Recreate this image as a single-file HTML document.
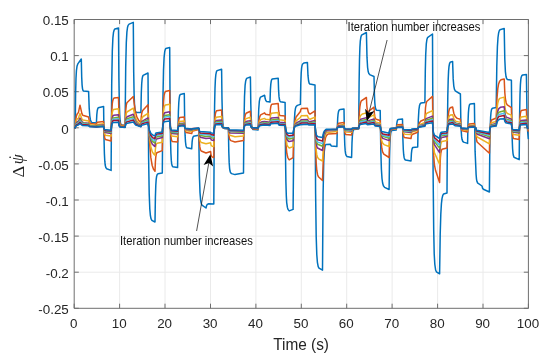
<!DOCTYPE html>
<html lang="en">
<head>
<meta charset="utf-8">
<title>Iteration convergence plot</title>
<style>html,body{margin:0;padding:0;background:#fff}svg{display:block}</style>
</head>
<body>
<svg width="550" height="360" viewBox="0 0 550 360">
<rect width="550" height="360" fill="#fff"/>
<path d="M119.6 19.5V308.3M165.0 19.5V308.3M210.5 19.5V308.3M255.9 19.5V308.3M301.3 19.5V308.3M346.7 19.5V308.3M392.1 19.5V308.3M437.6 19.5V308.3M483.0 19.5V308.3M74.2 55.6H528.4M74.2 91.7H528.4M74.2 127.8H528.4M74.2 163.9H528.4M74.2 200.0H528.4M74.2 236.1H528.4M74.2 272.2H528.4" stroke="#eaeaea" stroke-width="1" fill="none"/>
<path d="M74.2 19.5H528.4V308.3H74.2ZM74.2 308.3v-4.6M74.2 19.5v4.6M119.6 308.3v-4.6M119.6 19.5v4.6M165.0 308.3v-4.6M165.0 19.5v4.6M210.5 308.3v-4.6M210.5 19.5v4.6M255.9 308.3v-4.6M255.9 19.5v4.6M301.3 308.3v-4.6M301.3 19.5v4.6M346.7 308.3v-4.6M346.7 19.5v4.6M392.1 308.3v-4.6M392.1 19.5v4.6M437.6 308.3v-4.6M437.6 19.5v4.6M483.0 308.3v-4.6M483.0 19.5v4.6M528.4 308.3v-4.6M528.4 19.5v4.6M74.2 19.5h4.6M528.4 19.5h-4.6M74.2 55.6h4.6M528.4 55.6h-4.6M74.2 91.7h4.6M528.4 91.7h-4.6M74.2 127.8h4.6M528.4 127.8h-4.6M74.2 163.9h4.6M528.4 163.9h-4.6M74.2 200.0h4.6M528.4 200.0h-4.6M74.2 236.1h4.6M528.4 236.1h-4.6M74.2 272.2h4.6M528.4 272.2h-4.6M74.2 308.3h4.6M528.4 308.3h-4.6" stroke="#6e6e6e" stroke-width="1" fill="none"/>
<g fill="none" stroke-width="1.50" stroke-linejoin="round" stroke-linecap="butt">
<path d="M74.2 127.8 L75.2 127.8 L75.6 93.8 L76.0 78.2 L76.4 70.9 L77.0 66.3 L77.8 63.9 L81.3 59.0 L81.7 77.1 L82.1 85.1 L82.5 88.6 L82.9 90.2 L83.3 90.9 L88.6 91.5 L89.2 108.1 L89.8 116.0 L90.4 119.7 L91.0 121.4 L91.8 122.4 L96.4 123.0 L96.8 114.9 L97.2 111.0 L97.6 109.1 L98.2 107.8 L103.6 106.5 L104.0 138.1 L104.4 153.6 L104.8 161.2 L105.2 165.0 L105.8 167.5 L106.6 168.7 L111.1 170.4 L111.7 85.3 L112.3 51.4 L112.9 37.8 L113.5 32.4 L114.1 30.2 L114.9 29.0 L118.5 28.0 L118.9 78.4 L119.3 102.7 L119.7 114.5 L120.1 120.2 L120.5 122.9 L120.9 124.3 L121.5 125.1 L125.1 125.5 L125.7 67.5 L126.3 42.7 L126.9 32.1 L127.5 27.5 L128.1 25.4 L129.1 24.1 L133.3 22.4 L133.7 72.0 L134.1 94.3 L134.5 104.3 L134.9 108.8 L135.3 110.8 L135.7 111.8 L136.5 112.4 L140.9 112.5 L141.3 93.1 L141.7 83.7 L142.1 79.2 L142.5 76.9 L143.1 75.4 L148.0 73.0 L148.6 157.6 L149.2 193.6 L149.8 209.0 L150.4 215.7 L151.0 218.6 L151.8 220.3 L155.0 222.0 L155.4 197.3 L155.8 185.2 L156.2 179.3 L156.6 176.4 L157.2 174.5 L158.0 173.7 L162.3 173.0 L162.9 100.9 L163.5 70.3 L164.1 57.3 L164.7 51.8 L165.3 49.4 L165.9 48.4 L169.7 47.6 L170.1 108.8 L170.5 138.7 L170.9 153.2 L171.3 160.4 L171.7 163.9 L172.1 165.6 L172.7 166.7 L177.6 167.6 L178.0 129.9 L178.4 111.5 L178.8 102.5 L179.2 98.1 L179.6 95.9 L180.2 94.5 L184.3 93.6 L184.7 121.8 L185.1 135.4 L185.5 142.0 L185.9 145.2 L186.3 146.8 L186.9 147.8 L191.7 148.8 L192.1 142.2 L192.5 139.0 L192.9 137.4 L193.5 136.3 L198.8 135.2 L199.4 175.2 L200.0 192.4 L200.6 199.9 L201.2 203.2 L202.0 205.2 L206.0 208.0 L206.6 205.6 L207.2 204.5 L208.4 203.8 L213.8 204.0 L214.2 138.9 L214.6 105.5 L215.0 88.3 L215.4 79.4 L215.8 74.9 L216.4 71.8 L217.0 70.6 L221.6 69.2 L222.0 100.1 L222.4 115.0 L222.8 122.3 L223.2 125.7 L223.6 127.4 L224.2 128.5 L228.4 129.0 L228.8 151.8 L229.2 162.9 L229.6 168.3 L230.0 171.0 L230.6 172.7 L231.6 173.6 L235.0 174.6 L243.5 173.0 L243.9 127.6 L244.5 96.9 L245.1 85.3 L245.7 80.9 L246.3 79.1 L247.2 78.1 L250.4 77.0 L250.8 104.1 L251.2 117.4 L251.6 123.9 L252.0 127.0 L252.4 128.5 L253.0 129.5 L258.1 130.0 L258.7 109.8 L259.3 101.7 L259.9 98.5 L260.5 97.1 L264.6 95.2 L265.2 98.8 L265.8 100.5 L266.6 101.4 L270.0 102.0 L270.4 89.9 L270.8 84.1 L271.2 81.3 L271.6 79.9 L272.2 79.0 L278.2 78.2 L278.6 90.4 L279.0 96.4 L279.4 99.3 L279.8 100.8 L280.4 101.7 L285.1 102.6 L285.5 155.3 L285.9 182.0 L286.3 195.6 L286.7 202.6 L287.4 207.4 L288.0 209.4 L289.2 210.9 L293.1 209.4 L293.7 146.6 L294.3 121.9 L294.9 112.1 L295.5 108.2 L296.1 106.5 L297.4 105.4 L300.4 104.4 L300.8 83.2 L301.2 73.0 L301.6 68.0 L302.0 65.6 L302.6 64.0 L303.8 63.1 L307.4 62.4 L308.0 75.7 L308.6 81.0 L309.2 83.2 L309.8 84.0 L315.0 85.0 L315.6 193.2 L316.2 236.8 L316.8 254.7 L317.4 262.3 L318.2 266.7 L319.0 268.1 L322.5 270.2 L323.1 193.5 L323.7 163.3 L324.3 151.5 L324.9 146.9 L325.5 145.1 L326.1 144.4 L330.4 144.2 L330.8 145.3 L331.4 146.0 L336.9 146.6 L337.3 127.6 L337.7 118.3 L338.1 113.8 L338.5 111.6 L339.1 110.1 L340.3 109.4 L344.0 109.0 L344.4 133.4 L344.8 145.2 L345.2 150.9 L345.6 153.7 L346.2 155.5 L347.0 156.4 L351.6 157.4 L352.0 142.6 L352.4 135.5 L352.8 132.1 L353.2 130.5 L353.8 129.5 L358.7 129.0 L359.1 82.9 L359.5 59.4 L359.9 47.4 L360.3 41.1 L360.9 36.9 L361.5 35.2 L366.4 32.5 L367.0 57.4 L367.6 67.5 L368.2 71.6 L368.8 73.4 L370.2 74.9 L374.0 76.5 L374.4 94.1 L374.8 102.6 L375.2 106.7 L375.6 108.6 L376.0 109.6 L376.6 110.2 L380.2 110.5 L380.8 150.3 L381.4 169.3 L382.0 178.5 L382.6 183.0 L383.4 185.8 L384.6 187.4 L389.1 189.5 L389.5 158.8 L389.9 143.9 L390.3 136.7 L390.7 133.2 L391.1 131.6 L391.7 130.5 L396.3 130.0 L396.7 124.3 L397.1 121.6 L397.5 120.2 L398.1 119.4 L402.5 119.0 L402.9 139.2 L403.3 149.5 L403.7 154.7 L404.1 157.4 L404.7 159.3 L405.5 160.1 L411.0 161.0 L411.4 153.7 L411.8 150.2 L412.2 148.5 L412.8 147.5 L417.7 147.0 L418.3 120.4 L418.9 109.8 L419.5 105.6 L420.1 103.9 L420.9 103.1 L424.9 102.4 L425.3 71.0 L425.7 54.8 L426.3 43.8 L426.9 39.5 L427.5 37.7 L432.5 34.0 L433.1 172.5 L433.7 229.7 L434.2 253.7 L434.8 264.1 L435.6 270.0 L436.4 271.8 L439.6 273.8 L440.2 234.5 L440.8 214.3 L441.4 203.9 L442.0 198.6 L442.8 195.3 L443.6 193.9 L447.0 193.0 L447.4 129.2 L447.8 96.5 L448.2 79.6 L448.6 70.9 L449.0 66.5 L449.6 63.4 L450.2 62.3 L452.6 61.4 L453.2 78.9 L453.8 86.1 L454.4 89.1 L455.2 90.8 L460.4 94.0 L460.8 118.6 L461.2 130.6 L461.6 136.4 L462.0 139.3 L462.6 141.1 L463.6 142.1 L467.6 143.4 L468.0 122.8 L468.4 112.9 L468.8 108.1 L469.2 105.8 L469.6 104.6 L470.2 104.0 L474.4 103.6 L475.1 151.4 L476.1 174.5 L476.5 179.1 L476.9 181.3 L477.5 182.8 L482.0 186.0 L482.6 188.2 L483.4 189.3 L489.4 192.0 L489.8 148.6 L490.2 127.6 L490.6 117.4 L491.0 112.5 L491.4 110.1 L491.8 108.9 L492.4 108.2 L496.2 107.6 L496.8 66.3 L497.4 46.8 L498.0 37.5 L498.6 33.1 L499.2 30.9 L500.0 29.7 L504.2 28.4 L504.8 59.3 L505.4 71.6 L506.0 76.5 L506.6 78.5 L507.4 79.5 L511.4 80.2 L511.8 120.0 L512.2 139.3 L512.6 148.7 L513.0 153.3 L513.4 155.6 L514.0 157.2 L519.2 159.6 L519.6 115.9 L520.0 94.8 L520.4 84.6 L520.8 79.6 L521.2 77.2 L521.8 75.7 L522.8 74.9 L526.4 74.4 L527.0 113.9 L527.6 130.6 L528.2 137.8 L528.4 139.1" stroke="#0072bd"/>
<path d="M74.2 127.8 L75.2 127.8 L75.8 119.6 L76.4 115.9 L77.2 113.9 L78.4 112.6 L80.0 105.2 L81.9 113.6 L82.7 115.3 L88.6 117.0 L89.2 120.7 L89.8 122.5 L90.6 123.5 L96.4 124.2 L96.8 123.0 L97.4 122.3 L103.6 121.5 L104.0 131.0 L104.4 135.7 L104.8 138.0 L105.4 139.5 L111.1 141.0 L111.5 120.0 L111.9 109.3 L112.3 103.7 L112.7 100.9 L113.3 99.0 L114.1 98.1 L118.5 97.5 L118.9 112.0 L119.3 119.0 L119.7 122.3 L120.1 124.0 L120.7 125.0 L125.1 125.5 L125.7 110.8 L126.3 105.1 L126.9 102.7 L133.3 96.5 L135.1 110.4 L136.9 117.1 L138.9 120.6 L140.9 122.2 L141.3 116.5 L141.9 112.6 L142.7 110.5 L148.0 104.8 L149.4 140.4 L150.8 157.4 L152.2 165.5 L153.6 169.4 L155.0 171.3 L155.4 161.6 L155.8 156.8 L156.2 154.4 L156.8 152.8 L162.3 150.6 L162.9 116.3 L163.5 101.7 L164.1 95.4 L164.7 92.8 L165.3 91.6 L169.7 90.5 L170.1 116.9 L170.5 129.8 L170.9 136.0 L171.3 139.1 L171.7 140.6 L172.3 141.5 L177.6 142.0 L178.0 129.2 L178.4 123.0 L178.8 119.9 L179.2 118.4 L179.8 117.5 L184.3 117.0 L184.7 125.3 L185.1 129.3 L185.5 131.3 L186.1 132.5 L191.7 133.6 L192.1 132.0 L192.7 131.0 L198.8 129.6 L199.2 139.9 L199.8 146.9 L200.4 149.6 L201.2 151.0 L206.0 153.0 L210.6 151.5 L211.0 154.6 L211.4 156.0 L212.0 156.9 L213.8 157.6 L214.2 134.7 L214.6 122.9 L215.0 116.8 L215.4 113.7 L216.0 111.6 L216.6 110.8 L221.6 110.0 L222.0 119.6 L222.4 124.2 L222.8 126.4 L223.2 127.5 L223.8 128.2 L228.4 128.5 L228.8 134.6 L229.2 137.6 L229.8 139.5 L230.8 140.6 L235.0 142.0 L243.5 140.6 L244.1 124.8 L244.7 117.9 L245.3 114.9 L246.1 113.2 L250.4 111.2 L250.8 120.3 L251.2 124.8 L251.6 126.9 L252.2 128.3 L253.2 128.9 L258.1 129.0 L258.9 120.7 L259.7 116.9 L260.7 114.8 L264.6 112.8 L265.4 114.2 L270.0 115.0 L270.4 109.3 L270.8 106.5 L271.2 105.2 L271.8 104.3 L278.2 103.6 L278.6 109.9 L279.0 113.0 L279.4 114.6 L280.0 115.5 L285.1 116.0 L285.7 137.3 L286.3 148.2 L286.9 153.8 L287.8 157.5 L288.8 159.4 L289.2 159.9 L293.1 157.7 L293.7 136.7 L294.3 126.5 L295.1 120.3 L296.1 117.0 L300.4 111.5 L300.8 109.7 L301.4 108.6 L307.4 108.2 L308.2 111.8 L309.0 113.3 L310.0 114.1 L315.0 110.8 L315.6 147.4 L316.2 163.3 L316.8 170.5 L317.6 174.7 L318.4 176.7 L322.5 180.5 L323.5 154.9 L324.5 143.2 L325.5 137.8 L326.6 135.4 L328.0 134.0 L336.9 133.6 L337.3 128.1 L337.7 125.4 L338.1 124.1 L338.7 123.2 L344.0 122.5 L344.4 129.0 L344.8 132.1 L345.2 133.6 L345.8 134.5 L351.6 135.0 L352.0 131.6 L352.4 130.0 L353.0 129.0 L358.7 128.5 L359.3 113.6 L359.9 106.5 L360.5 103.0 L361.3 100.8 L366.4 97.5 L366.8 105.5 L367.2 109.2 L367.6 110.8 L368.0 111.4 L368.4 111.5 L374.0 107.2 L374.4 113.4 L374.8 116.4 L375.4 118.4 L376.2 119.3 L380.2 120.5 L381.0 139.9 L381.8 148.2 L382.6 151.9 L383.8 154.2 L389.1 157.5 L389.5 142.8 L389.9 135.7 L390.3 132.2 L390.7 130.6 L391.3 129.5 L396.3 129.0 L396.7 126.6 L397.1 125.5 L397.7 124.8 L402.5 124.4 L402.9 131.1 L403.3 134.5 L403.7 136.3 L404.3 137.5 L411.0 138.6 L411.4 136.1 L412.0 134.5 L417.7 132.2 L418.5 126.1 L419.3 123.2 L420.5 121.3 L424.9 119.3 L425.5 107.9 L426.1 103.5 L426.7 101.5 L432.5 96.4 L433.1 138.4 L433.7 155.4 L434.4 164.7 L435.6 170.6 L439.6 182.5 L440.0 166.1 L440.4 157.7 L440.8 153.4 L441.4 150.4 L442.0 149.3 L447.0 148.0 L447.6 126.4 L448.2 116.1 L448.8 111.3 L449.4 109.0 L450.2 107.8 L452.6 107.0 L453.8 113.2 L455.2 116.5 L457.2 118.4 L460.4 119.3 L460.8 125.4 L461.2 128.4 L461.6 129.8 L462.2 130.8 L467.6 132.0 L468.0 127.7 L468.4 125.6 L468.8 124.5 L469.4 123.9 L474.4 123.6 L474.8 126.5 L475.3 128.3 L475.9 129.0 L476.3 137.8 L476.7 140.8 L477.1 142.0 L489.4 153.2 L489.8 135.9 L490.2 127.5 L490.6 123.4 L491.0 121.3 L491.6 120.0 L496.2 118.0 L497.0 98.2 L497.8 88.6 L498.6 83.9 L499.6 81.2 L501.0 79.8 L504.2 79.0 L504.8 92.5 L505.4 99.0 L506.2 103.0 L507.2 104.9 L511.4 107.6 L511.8 123.9 L512.2 131.7 L512.6 135.5 L513.0 137.4 L513.6 138.6 L519.2 139.6 L519.6 124.3 L520.0 116.9 L520.4 113.3 L520.8 111.5 L521.4 110.4 L526.4 109.6 L527.0 123.1 L527.6 128.8 L528.2 131.2 L528.4 131.7" stroke="#d95319"/>
<path d="M74.2 127.8 L75.2 127.8 L75.8 122.6 L76.4 120.3 L77.2 119.0 L78.4 118.3 L80.0 113.6 L81.9 118.9 L82.9 120.1 L88.6 121.0 L89.2 123.3 L90.0 124.7 L96.4 125.5 L97.0 124.6 L103.6 123.8 L104.0 129.8 L104.4 132.8 L104.8 134.2 L105.4 135.2 L111.1 136.1 L111.5 122.9 L111.9 116.1 L112.3 112.6 L112.9 110.3 L113.5 109.4 L118.5 108.7 L118.9 117.8 L119.3 122.2 L119.7 124.4 L120.1 125.4 L120.7 126.0 L125.1 126.4 L125.7 117.1 L126.3 113.5 L126.9 112.0 L133.3 108.1 L135.1 116.8 L137.1 121.4 L139.9 123.9 L140.9 124.3 L141.3 120.7 L141.9 118.2 L143.1 116.5 L148.0 113.3 L149.4 135.7 L150.8 146.4 L152.2 151.6 L153.8 154.2 L155.0 155.2 L155.4 149.1 L155.8 146.1 L156.4 144.1 L157.2 143.2 L162.3 142.2 L162.9 120.5 L163.5 111.3 L164.1 107.4 L164.7 105.7 L165.5 104.9 L169.7 104.3 L170.1 120.9 L170.5 129.0 L170.9 133.0 L171.3 134.9 L171.9 136.1 L177.6 136.7 L178.0 128.7 L178.4 124.8 L178.8 122.8 L179.4 121.6 L184.3 121.0 L184.7 126.2 L185.1 128.8 L185.5 130.0 L186.1 130.8 L191.7 131.5 L192.3 130.2 L198.8 128.9 L199.2 135.4 L199.8 139.8 L200.4 141.5 L201.4 142.5 L206.0 143.7 L210.6 142.7 L211.0 144.7 L211.4 145.6 L212.2 146.2 L213.8 146.6 L214.2 132.1 L214.6 124.7 L215.0 120.9 L215.6 118.3 L216.2 117.3 L221.6 116.6 L222.0 122.6 L222.4 125.5 L222.8 126.9 L223.4 127.8 L228.4 128.2 L228.8 132.1 L229.2 133.9 L229.8 135.2 L235.0 136.7 L243.5 135.9 L244.1 125.9 L244.7 121.6 L245.3 119.6 L246.1 118.6 L250.4 117.3 L250.8 123.1 L251.2 125.9 L251.6 127.3 L252.2 128.1 L258.1 128.6 L258.9 123.3 L259.7 120.9 L260.9 119.5 L264.6 118.4 L265.4 119.2 L270.0 119.7 L270.4 116.1 L270.8 114.4 L271.4 113.3 L278.2 112.6 L278.6 116.6 L279.0 118.5 L279.6 119.7 L285.1 120.4 L285.7 133.8 L286.3 140.7 L287.1 145.0 L288.0 146.8 L289.2 148.0 L293.1 146.6 L293.7 133.4 L294.3 127.0 L295.1 123.1 L296.3 120.7 L300.4 117.5 L300.8 116.4 L301.4 115.7 L307.4 115.5 L308.2 117.7 L309.2 118.8 L310.0 119.2 L315.0 117.1 L315.6 140.1 L316.2 150.2 L316.8 154.7 L317.6 157.4 L318.6 158.8 L322.5 161.0 L323.5 144.9 L324.5 137.5 L325.5 134.1 L326.8 132.4 L336.9 131.5 L337.3 128.0 L337.7 126.3 L338.3 125.2 L344.0 124.5 L344.4 128.5 L344.8 130.5 L345.2 131.4 L345.8 132.0 L351.6 132.3 L352.0 130.2 L352.4 129.2 L353.0 128.6 L358.7 128.2 L359.3 120.9 L359.9 117.3 L360.7 115.3 L362.3 114.0 L366.4 112.9 L366.8 115.8 L367.2 117.0 L367.6 117.5 L368.4 117.6 L374.0 114.8 L374.4 118.7 L374.8 120.6 L375.4 121.9 L380.2 123.2 L381.0 135.4 L381.8 140.7 L382.6 143.0 L384.0 144.6 L389.1 146.5 L389.5 137.2 L389.9 132.7 L390.3 130.6 L390.7 129.5 L391.3 128.9 L396.3 128.6 L396.7 127.1 L397.3 126.1 L402.5 125.7 L402.9 129.9 L403.3 132.0 L403.9 133.5 L404.9 134.2 L411.0 134.6 L411.4 133.0 L412.0 132.0 L417.7 130.6 L418.5 126.7 L419.5 124.6 L424.9 122.5 L425.5 116.7 L426.1 114.4 L426.9 113.2 L432.5 110.6 L433.1 136.3 L433.7 146.8 L434.4 152.6 L439.6 164.3 L440.0 153.0 L440.4 147.2 L440.8 144.2 L441.4 142.2 L442.0 141.4 L447.0 140.5 L447.6 126.9 L448.2 120.5 L448.8 117.4 L449.4 116.0 L450.4 115.1 L452.6 114.7 L454.0 119.0 L455.6 121.1 L460.4 122.4 L460.8 126.3 L461.2 128.2 L461.8 129.4 L467.6 130.4 L468.0 127.7 L468.4 126.4 L469.0 125.6 L474.4 125.2 L475.0 127.5 L475.7 128.5 L475.9 128.6 L476.3 134.1 L476.7 136.0 L477.3 137.0 L489.4 143.8 L489.8 132.9 L490.2 127.6 L490.6 125.0 L491.2 123.3 L492.2 122.5 L496.2 121.6 L497.0 109.1 L497.8 103.1 L498.6 100.1 L499.6 98.4 L504.2 97.1 L504.8 105.6 L505.4 109.7 L506.2 112.1 L507.4 113.5 L511.4 115.1 L511.8 125.3 L512.2 130.3 L512.6 132.7 L513.0 133.9 L513.6 134.6 L519.2 135.2 L519.6 125.6 L520.0 120.9 L520.4 118.6 L520.8 117.5 L521.4 116.9 L526.4 116.3 L527.0 124.8 L527.6 128.4 L528.2 129.9 L528.4 130.2" stroke="#edb120"/>
<path d="M74.2 127.8 L75.2 127.8 L75.8 124.3 L76.4 122.7 L77.4 121.7 L78.4 121.3 L80.0 118.1 L81.9 121.7 L83.3 122.7 L88.6 123.2 L89.2 124.8 L90.0 125.7 L96.4 126.3 L97.0 125.6 L103.6 125.1 L104.0 129.2 L104.4 131.2 L105.0 132.5 L111.1 133.5 L111.5 124.5 L111.9 119.8 L112.3 117.5 L112.9 115.9 L113.7 115.2 L118.5 114.8 L118.9 121.0 L119.3 124.0 L119.7 125.5 L120.3 126.4 L125.1 126.8 L125.7 120.5 L126.3 118.0 L127.1 116.8 L133.3 114.3 L135.1 120.3 L137.3 123.6 L140.9 125.4 L141.3 122.9 L141.9 121.3 L148.0 117.9 L149.4 133.2 L150.8 140.5 L152.2 144.0 L154.2 146.1 L155.0 146.5 L155.4 142.3 L155.8 140.3 L156.4 138.9 L162.3 137.6 L162.9 122.8 L163.5 116.6 L164.1 113.9 L164.7 112.7 L169.7 111.8 L170.1 123.1 L170.5 128.6 L170.9 131.3 L171.3 132.7 L171.9 133.5 L177.6 133.9 L178.0 128.4 L178.4 125.7 L178.8 124.4 L179.4 123.6 L184.3 123.2 L184.7 126.7 L185.1 128.5 L185.7 129.5 L191.7 130.3 L192.3 129.4 L198.8 128.6 L199.2 133.0 L199.8 136.0 L200.4 137.2 L206.0 138.6 L210.6 138.0 L211.0 139.3 L211.6 140.1 L213.8 140.6 L214.2 130.7 L214.6 125.7 L215.0 123.1 L215.6 121.3 L216.4 120.6 L221.6 120.1 L222.0 124.3 L222.4 126.2 L222.8 127.2 L223.4 127.8 L228.4 128.1 L228.8 130.7 L229.4 132.4 L230.2 133.1 L243.5 133.3 L244.1 126.5 L244.7 123.5 L245.3 122.2 L246.7 121.3 L250.4 120.7 L250.8 124.6 L251.2 126.5 L251.8 127.7 L258.1 128.3 L258.9 124.7 L259.7 123.1 L261.8 121.8 L264.6 121.4 L270.0 122.3 L270.4 119.8 L270.8 118.7 L271.4 117.9 L278.2 117.4 L278.6 120.1 L279.0 121.5 L279.6 122.3 L285.1 122.7 L285.7 131.9 L286.3 136.6 L287.1 139.5 L288.2 141.0 L289.2 141.6 L293.1 140.7 L293.7 131.6 L294.3 127.2 L295.1 124.6 L296.8 122.7 L300.4 120.8 L301.0 119.8 L307.4 119.4 L308.2 120.9 L309.6 121.8 L315.0 120.5 L315.6 136.2 L316.2 143.1 L316.8 146.2 L317.6 148.0 L322.5 150.5 L323.5 139.5 L324.5 134.4 L325.5 132.1 L327.0 130.8 L336.9 130.3 L337.3 127.9 L337.9 126.4 L338.7 125.8 L344.0 125.5 L344.4 128.3 L344.8 129.6 L345.4 130.5 L351.6 130.9 L352.0 129.4 L352.6 128.5 L358.7 128.1 L359.3 123.1 L359.9 120.7 L360.7 119.2 L366.4 117.6 L366.8 119.6 L367.2 120.5 L367.8 120.9 L374.0 118.9 L374.4 121.6 L374.8 122.9 L375.4 123.8 L380.2 124.7 L381.0 133.0 L381.8 136.6 L382.8 138.4 L389.1 140.6 L389.5 134.2 L389.9 131.2 L390.3 129.7 L390.9 128.8 L396.3 128.3 L396.7 127.3 L397.3 126.7 L402.5 126.3 L402.9 129.2 L403.5 131.1 L404.1 131.8 L411.0 132.4 L411.6 131.0 L417.7 129.7 L418.5 127.1 L419.5 125.6 L424.9 124.1 L425.5 120.2 L426.1 118.6 L432.5 116.1 L433.1 133.6 L433.7 140.8 L434.4 144.7 L439.6 152.7 L440.0 145.0 L440.4 141.0 L441.0 138.4 L441.6 137.4 L447.0 136.5 L447.6 127.2 L448.2 122.8 L448.8 120.7 L449.6 119.5 L452.6 118.9 L454.0 121.8 L456.4 123.5 L460.4 124.1 L460.8 126.8 L461.2 128.0 L461.8 128.9 L467.6 129.6 L468.0 127.7 L468.6 126.6 L474.4 126.0 L475.0 127.6 L475.9 128.3 L476.3 132.1 L476.7 133.4 L477.5 134.2 L489.4 138.7 L489.8 131.3 L490.2 127.7 L490.6 125.9 L491.2 124.8 L496.2 123.6 L497.0 115.1 L497.8 110.9 L498.8 108.6 L500.4 107.3 L504.2 106.8 L504.8 112.6 L505.4 115.4 L506.2 117.1 L511.4 119.1 L511.8 126.1 L512.2 129.5 L512.6 131.1 L513.2 132.2 L519.2 132.9 L519.6 126.3 L520.0 123.1 L520.4 121.6 L521.0 120.6 L526.4 120.0 L527.0 125.8 L527.6 128.2 L528.2 129.3 L528.4 129.5" stroke="#7e2f8e"/>
<path d="M74.2 127.8 L75.2 127.8 L75.8 124.9 L76.4 123.6 L78.4 122.5 L80.0 119.9 L82.1 123.0 L88.6 124.0 L89.4 125.6 L96.4 126.5 L97.2 125.9 L103.6 125.6 L104.0 128.9 L104.4 130.6 L105.0 131.6 L111.1 132.4 L111.5 125.1 L111.9 121.3 L112.5 118.8 L113.1 117.9 L118.5 117.2 L118.9 122.3 L119.3 124.7 L119.7 125.9 L120.3 126.6 L125.1 127.0 L125.7 121.9 L126.3 119.9 L127.1 118.8 L133.3 116.8 L135.3 122.0 L137.9 124.8 L140.9 125.8 L141.3 123.8 L141.9 122.5 L148.0 119.8 L149.4 132.2 L150.8 138.2 L152.4 141.3 L155.0 143.0 L155.4 139.6 L155.8 137.9 L156.4 136.9 L162.3 135.8 L162.9 123.8 L163.5 118.6 L164.1 116.5 L164.7 115.5 L169.7 114.7 L170.1 124.0 L170.5 128.5 L170.9 130.7 L171.3 131.8 L171.9 132.4 L177.6 132.8 L178.0 128.3 L178.4 126.1 L179.0 124.7 L180.0 124.1 L184.3 124.0 L184.7 126.9 L185.1 128.3 L185.7 129.2 L191.7 129.8 L192.3 129.1 L198.8 128.4 L199.2 132.0 L199.8 134.5 L200.4 135.4 L206.0 136.6 L210.6 136.1 L211.0 137.2 L211.6 137.8 L213.8 138.2 L214.2 130.2 L214.6 126.1 L215.0 123.9 L215.6 122.5 L216.6 121.8 L221.6 121.6 L222.0 124.9 L222.4 126.5 L223.0 127.5 L228.4 128.0 L228.8 130.2 L229.4 131.5 L243.5 132.3 L244.1 126.7 L244.7 124.3 L245.5 123.1 L250.4 122.0 L250.8 125.2 L251.2 126.7 L251.8 127.7 L258.1 128.2 L258.9 125.3 L259.9 123.8 L264.6 122.6 L270.0 123.3 L270.4 121.3 L271.0 120.1 L278.2 119.3 L278.6 121.6 L279.2 122.9 L280.2 123.5 L285.1 123.7 L285.7 131.1 L286.3 134.9 L287.1 137.3 L288.2 138.5 L289.2 139.0 L293.1 138.3 L293.7 130.9 L294.3 127.4 L295.1 125.2 L300.4 122.1 L301.0 121.3 L307.4 120.9 L308.4 122.4 L310.0 123.0 L315.0 121.8 L315.6 134.6 L316.2 140.2 L316.8 142.7 L317.6 144.2 L322.5 146.2 L323.5 137.3 L324.5 133.2 L325.5 131.3 L327.6 130.1 L336.9 129.8 L337.3 127.9 L337.9 126.7 L344.0 125.9 L344.4 128.2 L344.8 129.3 L345.4 130.0 L351.6 130.3 L352.0 129.1 L352.6 128.4 L358.7 128.0 L359.3 123.9 L359.9 122.0 L360.7 120.8 L366.4 119.5 L366.8 121.1 L367.2 121.8 L367.8 122.2 L374.0 120.6 L374.4 122.8 L375.0 124.1 L380.2 125.2 L381.0 132.0 L381.8 134.9 L382.8 136.4 L389.1 138.2 L389.5 133.0 L389.9 130.5 L390.3 129.3 L390.9 128.6 L396.3 128.2 L396.9 127.2 L402.5 126.6 L402.9 129.0 L403.5 130.5 L404.3 131.2 L411.0 131.6 L411.6 130.4 L417.7 129.3 L418.5 127.2 L419.7 125.9 L424.9 124.8 L425.5 121.6 L426.1 120.3 L432.5 118.2 L433.1 132.5 L433.7 138.4 L434.4 141.6 L439.6 148.1 L440.0 141.8 L440.4 138.6 L441.0 136.4 L441.6 135.6 L447.0 134.9 L447.6 127.3 L448.2 123.7 L448.8 122.0 L449.6 121.1 L452.6 120.5 L454.0 122.9 L460.4 124.8 L460.8 127.0 L461.4 128.3 L467.6 129.3 L468.0 127.8 L468.6 126.8 L474.4 126.3 L475.0 127.6 L475.9 128.2 L476.3 131.3 L476.7 132.4 L489.4 136.7 L489.8 130.6 L490.2 127.7 L490.6 126.3 L491.2 125.3 L496.2 124.4 L497.0 117.4 L497.8 114.1 L498.8 112.2 L504.2 110.7 L504.8 115.4 L505.4 117.7 L506.2 119.1 L511.4 120.7 L511.8 126.4 L512.2 129.2 L512.6 130.5 L513.2 131.4 L519.2 131.9 L519.6 126.6 L520.0 124.0 L520.4 122.7 L521.0 121.9 L526.4 121.4 L527.0 126.1 L527.6 128.1 L528.4 129.1" stroke="#77ac30"/>
<path d="M74.2 127.8 L75.2 127.8 L75.8 125.3 L76.6 124.0 L78.4 123.3 L80.0 121.0 L82.1 123.7 L88.6 124.6 L89.4 125.9 L96.4 126.7 L103.6 125.9 L104.0 128.8 L104.4 130.2 L105.0 131.1 L111.1 131.8 L111.5 125.5 L111.9 122.2 L112.5 120.1 L113.1 119.3 L118.5 118.7 L118.9 123.1 L119.3 125.1 L119.7 126.2 L120.3 126.8 L125.1 127.1 L125.7 122.7 L126.3 121.0 L127.3 120.0 L133.3 118.4 L135.3 122.9 L138.3 125.4 L140.9 126.1 L141.3 124.4 L141.9 123.2 L148.0 120.9 L149.4 131.6 L150.8 136.7 L152.4 139.3 L155.0 140.8 L155.4 137.9 L155.8 136.5 L156.4 135.6 L162.3 134.6 L162.9 124.3 L163.5 120.0 L164.1 118.1 L164.9 117.1 L169.7 116.6 L170.1 124.5 L170.5 128.4 L170.9 130.3 L171.5 131.4 L177.6 132.1 L178.0 128.2 L178.4 126.3 L179.0 125.2 L184.3 124.6 L184.7 127.1 L185.1 128.3 L185.7 129.0 L191.7 129.5 L192.5 128.8 L198.8 128.3 L199.2 131.4 L199.8 133.5 L200.4 134.3 L210.6 134.9 L211.0 135.8 L211.8 136.5 L213.8 136.7 L214.2 129.9 L214.6 126.3 L215.2 124.0 L215.8 123.1 L221.6 122.5 L222.0 125.3 L222.4 126.7 L223.0 127.6 L228.4 128.0 L228.8 129.8 L229.4 131.0 L243.5 131.6 L244.1 126.9 L244.7 124.8 L245.5 123.7 L250.4 122.8 L250.8 125.6 L251.2 126.9 L251.8 127.7 L258.1 128.2 L258.9 125.7 L259.9 124.3 L264.6 123.3 L270.0 124.0 L270.4 122.2 L271.0 121.2 L278.2 120.5 L278.6 122.4 L279.2 123.6 L285.1 124.3 L285.7 130.7 L286.3 133.9 L287.1 136.0 L288.4 137.1 L293.1 136.8 L293.7 130.5 L294.3 127.4 L295.1 125.6 L300.4 122.9 L301.0 122.2 L307.4 121.9 L308.4 123.1 L310.2 123.7 L315.0 122.7 L315.6 133.7 L316.2 138.4 L316.8 140.6 L317.8 142.1 L322.5 143.6 L323.5 135.9 L324.5 132.4 L325.7 130.6 L336.9 129.5 L337.3 127.9 L337.9 126.8 L344.0 126.2 L344.4 128.1 L345.0 129.4 L351.6 130.0 L352.0 128.9 L352.6 128.3 L358.7 128.0 L359.3 124.5 L359.9 122.8 L360.9 121.7 L366.4 120.7 L366.8 122.1 L367.2 122.7 L368.0 123.0 L374.0 121.6 L374.4 123.5 L375.0 124.7 L380.2 125.6 L381.0 131.4 L381.8 133.9 L382.8 135.2 L389.1 136.7 L389.5 132.3 L389.9 130.2 L390.3 129.1 L390.9 128.5 L396.3 128.2 L396.9 127.2 L402.5 126.8 L402.9 128.8 L403.5 130.1 L404.5 130.8 L411.0 131.0 L411.6 130.1 L417.7 129.1 L418.5 127.3 L419.9 126.1 L424.9 125.3 L425.5 122.5 L426.1 121.4 L432.5 119.6 L433.1 131.8 L433.7 136.8 L434.4 139.6 L439.6 145.2 L440.0 139.8 L440.4 137.0 L441.0 135.2 L441.8 134.4 L447.0 133.9 L447.6 127.4 L448.2 124.3 L448.8 122.9 L449.8 121.9 L452.6 121.6 L454.2 123.8 L460.4 125.2 L460.8 127.1 L461.4 128.2 L467.6 129.1 L468.0 127.8 L468.6 126.9 L474.4 126.5 L475.0 127.6 L475.9 128.2 L476.3 130.8 L476.7 131.7 L489.4 135.4 L489.8 130.2 L490.2 127.7 L490.6 126.5 L491.2 125.7 L496.2 124.9 L497.0 118.9 L497.8 116.0 L498.8 114.4 L504.2 113.2 L504.8 117.2 L505.4 119.2 L506.2 120.3 L511.4 121.7 L511.8 126.6 L512.2 129.0 L512.6 130.1 L513.2 130.8 L519.2 131.3 L519.6 126.7 L520.0 124.5 L520.4 123.4 L521.0 122.8 L526.4 122.3 L527.0 126.4 L527.6 128.1 L528.4 129.0" stroke="#4dbeee"/>
<path d="M74.2 127.8 L75.2 127.8 L75.8 125.7 L76.6 124.7 L78.4 124.0 L80.0 122.2 L82.1 124.4 L88.6 125.1 L89.4 126.2 L96.4 126.9 L103.6 126.2 L104.0 128.6 L104.6 130.1 L105.4 130.7 L111.1 131.1 L111.5 125.9 L111.9 123.2 L112.5 121.4 L113.3 120.6 L118.5 120.2 L118.9 123.8 L119.3 125.6 L119.9 126.7 L125.1 127.2 L125.7 123.6 L126.3 122.1 L133.3 120.0 L135.3 123.7 L139.3 126.1 L140.9 126.4 L141.5 124.5 L142.5 123.6 L148.0 122.1 L149.4 130.9 L150.8 135.2 L152.6 137.6 L155.0 138.7 L155.4 136.2 L156.0 134.7 L156.8 134.0 L162.3 133.5 L162.9 124.9 L163.5 121.3 L164.1 119.7 L164.9 118.9 L169.7 118.5 L170.1 125.1 L170.5 128.3 L170.9 129.9 L171.5 130.8 L177.6 131.3 L178.0 128.2 L178.4 126.6 L179.0 125.6 L184.3 125.1 L184.7 127.2 L185.1 128.2 L185.7 128.8 L191.7 129.2 L192.7 128.6 L198.8 128.3 L199.4 131.6 L200.0 132.9 L210.6 133.7 L211.0 134.5 L213.8 135.2 L214.2 129.5 L214.6 126.6 L215.2 124.6 L215.8 123.9 L221.6 123.4 L222.0 125.7 L222.4 126.9 L223.0 127.6 L228.4 128.0 L228.8 129.5 L229.4 130.5 L243.5 131.0 L244.1 127.0 L244.7 125.3 L245.5 124.4 L250.4 123.7 L250.8 125.9 L251.2 127.0 L251.8 127.7 L258.1 128.1 L258.9 126.0 L260.1 124.8 L264.6 124.1 L270.0 124.6 L270.4 123.2 L271.0 122.3 L278.2 121.8 L278.6 123.3 L279.2 124.3 L285.1 124.8 L285.7 130.2 L286.3 132.9 L287.1 134.6 L289.2 135.8 L293.1 135.3 L293.7 130.0 L294.3 127.5 L295.1 125.9 L300.4 123.7 L301.0 123.1 L307.4 122.9 L308.6 124.0 L315.0 123.5 L315.6 132.7 L316.2 136.7 L316.8 138.5 L317.8 139.7 L322.5 141.0 L323.5 134.6 L324.5 131.7 L325.7 130.1 L336.9 129.3 L337.3 127.9 L337.9 127.0 L344.0 126.5 L344.4 128.1 L345.0 129.1 L351.6 129.6 L352.2 128.5 L358.7 128.0 L359.3 125.0 L360.1 123.4 L366.4 121.9 L366.8 123.0 L367.4 123.7 L374.0 122.6 L374.4 124.2 L375.0 125.2 L380.2 126.0 L381.0 130.8 L381.8 132.9 L383.0 134.1 L389.1 135.2 L389.5 131.5 L389.9 129.8 L390.5 128.7 L396.3 128.1 L396.9 127.3 L402.5 127.0 L402.9 128.6 L403.5 129.7 L411.0 130.5 L411.6 129.7 L417.7 128.9 L418.7 127.1 L424.9 125.7 L425.5 123.4 L426.1 122.5 L432.5 121.0 L433.1 131.2 L433.7 135.3 L434.4 137.6 L439.6 142.3 L440.0 137.8 L440.4 135.5 L441.0 133.9 L441.8 133.3 L447.0 132.9 L447.6 127.4 L448.2 124.9 L449.0 123.4 L452.6 122.6 L454.4 124.6 L460.4 125.7 L460.8 127.2 L461.4 128.2 L467.6 128.8 L468.0 127.8 L468.6 127.1 L474.4 126.8 L475.0 127.7 L475.9 128.1 L476.3 130.3 L476.7 131.1 L489.4 134.1 L489.8 129.8 L490.2 127.7 L490.8 126.4 L496.2 125.4 L497.0 120.4 L497.8 118.0 L498.8 116.6 L504.2 115.6 L504.8 119.0 L505.6 120.9 L507.0 122.0 L511.4 122.7 L511.8 126.8 L512.2 128.8 L512.8 130.0 L519.2 130.7 L519.6 126.9 L520.0 125.1 L520.6 123.9 L526.4 123.3 L527.0 126.6 L527.6 128.0 L528.4 128.8" stroke="#a2142f"/>
<path d="M74.2 127.8 L75.2 127.8 L75.8 126.3 L76.8 125.4 L78.4 125.0 L80.0 123.6 L82.3 125.4 L88.6 125.8 L89.6 126.7 L96.4 127.1 L103.6 126.6 L104.0 128.4 L104.6 129.5 L111.1 130.2 L111.5 126.4 L111.9 124.4 L112.5 123.0 L113.5 122.4 L118.5 122.2 L118.9 124.9 L119.3 126.2 L119.9 127.0 L125.1 127.4 L125.7 124.7 L126.3 123.6 L133.3 122.0 L135.7 125.1 L140.9 126.8 L141.5 125.4 L148.0 123.5 L149.4 130.1 L151.0 133.6 L153.4 135.4 L155.0 135.8 L155.4 134.0 L156.0 132.9 L162.3 132.0 L162.9 125.7 L163.5 123.0 L164.1 121.8 L169.7 120.9 L170.1 125.8 L170.5 128.2 L170.9 129.3 L171.5 130.1 L177.6 130.4 L178.0 128.1 L178.4 126.9 L179.0 126.2 L184.3 125.8 L184.7 127.3 L185.3 128.3 L191.7 128.9 L198.8 128.1 L199.4 130.6 L200.0 131.6 L210.6 132.2 L211.2 132.9 L213.8 133.3 L214.2 129.1 L214.6 126.9 L215.2 125.4 L216.0 124.8 L221.6 124.5 L222.0 126.3 L222.6 127.4 L228.4 127.9 L228.8 129.1 L229.4 129.8 L243.5 130.2 L244.1 127.2 L244.7 126.0 L245.9 125.1 L250.4 124.7 L250.8 126.4 L251.4 127.5 L258.1 128.0 L258.9 126.5 L260.7 125.4 L264.6 125.0 L270.0 125.4 L270.4 124.4 L271.0 123.7 L278.2 123.3 L278.6 124.5 L279.2 125.2 L285.1 125.6 L285.7 129.6 L286.5 132.0 L287.6 133.2 L293.1 133.3 L293.7 129.4 L294.3 127.6 L295.3 126.2 L300.4 124.8 L307.4 124.2 L309.0 125.1 L315.0 124.7 L315.6 131.4 L316.2 134.4 L316.8 135.7 L318.2 136.8 L322.5 137.5 L323.5 132.8 L324.5 130.7 L326.1 129.3 L336.9 128.9 L337.5 127.6 L344.0 126.8 L344.4 128.0 L345.0 128.8 L351.6 129.1 L352.2 128.3 L358.7 127.9 L359.3 125.8 L360.1 124.5 L366.4 123.4 L366.8 124.3 L367.4 124.7 L374.0 124.0 L374.4 125.1 L375.0 125.9 L380.2 126.4 L381.0 130.0 L381.8 131.6 L389.1 133.3 L389.5 130.6 L389.9 129.3 L390.5 128.4 L396.3 128.0 L397.1 127.4 L402.5 127.2 L403.1 128.8 L403.9 129.5 L411.0 129.8 L411.8 129.1 L417.7 128.6 L418.7 127.3 L424.9 126.2 L425.5 124.5 L426.3 123.7 L432.5 122.7 L433.1 130.3 L433.7 133.4 L434.4 135.1 L439.6 138.5 L440.0 135.2 L440.6 133.0 L441.2 132.2 L447.0 131.5 L447.6 127.5 L448.2 125.6 L449.0 124.6 L452.6 124.0 L455.0 125.7 L460.4 126.2 L460.8 127.4 L461.4 128.1 L467.6 128.6 L468.2 127.5 L474.4 127.0 L475.0 127.7 L475.9 128.0 L476.3 129.6 L476.7 130.2 L489.4 132.5 L489.8 129.3 L490.2 127.7 L490.8 126.8 L496.2 126.0 L497.0 122.3 L498.0 120.3 L499.8 119.1 L504.2 118.8 L504.8 121.3 L505.6 122.7 L511.4 124.1 L511.8 127.1 L512.2 128.5 L512.8 129.4 L519.2 130.0 L519.6 127.1 L520.0 125.8 L520.6 124.9 L526.4 124.4 L527.0 126.9 L527.6 128.0 L528.4 128.5" stroke="#0072bd"/>
</g>
<path d="M196.6 231.0L208.8 163.0" stroke="#1a1a1a" stroke-width="0.75" fill="none"/><path d="M210.4 154.2L213.1 166.6L208.8 163.0L203.6 164.9Z" fill="#000"/>
<path d="M387.1 40.0L369.0 112.7" stroke="#1a1a1a" stroke-width="0.75" fill="none"/><path d="M366.9 121.3L365.1 108.8L369.0 112.7L374.4 111.1Z" fill="#000"/>
<g font-family="'Liberation Sans', Arial, Helvetica, sans-serif" fill="#262626">
<g font-size="13.4px" text-anchor="middle">
<text x="73.8" y="328.4">0</text>
<text x="119.2" y="328.4">10</text>
<text x="164.6" y="328.4">20</text>
<text x="210.1" y="328.4">30</text>
<text x="255.5" y="328.4">40</text>
<text x="300.9" y="328.4">50</text>
<text x="346.3" y="328.4">60</text>
<text x="391.7" y="328.4">70</text>
<text x="437.2" y="328.4">80</text>
<text x="482.6" y="328.4">90</text>
<text x="528.0" y="328.4">100</text>
</g>
<g font-size="13.4px" text-anchor="end">
<text x="68.8" y="25.2">0.15</text>
<text x="68.8" y="61.3">0.1</text>
<text x="68.8" y="97.4">0.05</text>
<text x="68.8" y="133.5">0</text>
<text x="68.8" y="169.6">-0.05</text>
<text x="68.8" y="205.7">-0.1</text>
<text x="68.8" y="241.8">-0.15</text>
<text x="68.8" y="277.9">-0.2</text>
<text x="68.8" y="314.0">-0.25</text>
</g>
<text x="273.2" y="349.6" font-size="16px" textLength="55.8" lengthAdjust="spacingAndGlyphs">Time (s)</text>
<text x="120.0" y="244.5" font-size="12.1px" fill="#111" textLength="132.8" lengthAdjust="spacingAndGlyphs">Iteration number increases</text>
<text x="347.6" y="30.9" font-size="12.1px" fill="#111" textLength="132.8" lengthAdjust="spacingAndGlyphs">Iteration number increases</text>
</g>
<g transform="translate(24 177.5) rotate(-90)" fill="#222" font-family="'Liberation Serif', 'DejaVu Serif', serif"><text x="0" y="0" font-size="16.5px" textLength="11.6" lengthAdjust="spacingAndGlyphs">Δ</text><text x="13.2" y="-1.2" font-size="16px" font-style="italic">ψ</text><text x="18.6" y="-12.6" font-size="14px">.</text></g>
</svg>
</body>
</html>
